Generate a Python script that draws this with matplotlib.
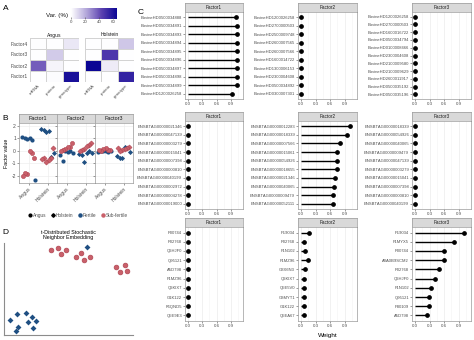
import numpy as np
import matplotlib
matplotlib.use('Agg')
from matplotlib import pyplot as plt
from matplotlib.colors import LinearSegmentedColormap, Normalize
from matplotlib.lines import Line2D
from matplotlib.cm import ScalarMappable

plt.rcParams['font.family'] = ['Liberation Sans', 'DejaVu Sans']

# ---------------- data ----------------
# A: variance explained (%) rows Factor1..Factor4, cols mRNA, protein, genotype
views = ['mRNA', 'protein', 'genotype']
factors = ['Factor1', 'Factor2', 'Factor3', 'Factor4']
var_angus = [[0.5, 1.0, 62.0],
             [38.0, 3.0, 0.5],
             [0.5, 13.0, 0.5],
             [0.5, 0.5, 6.0]]
var_holstein = [[0.5, 0.5, 55.0],
                [66.0, 5.0, 0.5],
                [0.5, 48.0, 0.5],
                [0.5, 0.5, 14.0]]

# B: factor values per sample (6 fertile + 6 sub-fertile per breed)
f1_angus_fert = [1.1, 1.05, 0.95, 1.0, 0.9, -2.35]
f1_angus_sub = [-0.55, -0.2, 0.0, -1.9, -1.8, -2.0]
f1_hol_fert = [1.8, 1.7, 1.55, 1.6, -0.5, -0.2]
f1_hol_sub = [0.2, -0.6, -0.75, -0.9, -0.6, -0.7]
f2_angus_fert = [-0.35, -0.85, -0.05, -0.1, 0.0, -0.15]
f2_angus_sub = [0.6, 0.3, 0.35, 0.15, 0.05, 0.0]
f2_hol_fert = [-0.25, -0.35, -0.9, -0.2, -0.05, -0.15]
f2_hol_sub = [0.65, 0.5, 0.4, 0.15, 0.1, -0.05]
f3_angus_fert = [-0.1, -0.05, -0.05, 0.0, -0.1, -0.05]
f3_angus_sub = [0.1, 0.05, 0.25, 0.15, 0.0, 0.05]
f3_hol_fert = [-0.45, -0.55, -0.6, 0.35, 0.25, -0.1]
f3_hol_sub = [0.3, 0.25, 0.15, 0.1, 0.0, 0.2]

# C: top weights
geno_f1_ids = ['BovineHD0500034888', 'BovineHD0500034891', 'BovineHD0500034893', 'BovineHD0500034894',
               'BovineHD0500034895', 'BovineHD0500034896', 'BovineHD0500034897', 'BovineHD0500034898',
               'BovineHD0500034899', 'BovineHD1200026258']
geno_f1_w = [1.01, 1.02, 1.02, 1.02, 1.02, 1.02, 1.02, 1.02, 1.02, 0.93]
geno_f2_ids = ['BovineHD1200026258', 'BovineHD2700000503', 'BovineHD2500009748', 'BovineHD2600007565',
               'BovineHD2600007566', 'BovineHD1600014722', 'BovineHD1300006153', 'BovineHD2300004608',
               'BovineHD0500034892', 'BovineHD0300007301']
geno_f2_w = [0.01, 0.01, 0.01, 0.01, 0.01, 0.01, 0.01, 0.01, 0.01, 0.01]
geno_f3_ids = ['BovineHD1200026258', 'BovineHD2700000503', 'BovineHD1600016722', 'BovineHD0500034794',
               'BovineHD0100008466', 'BovineHD2300004608', 'BovineHD2100009580', 'BovineHD2100009629',
               'BovineHD2600011917', 'BovineHD0500035192', 'BovineHD0500035196']
geno_f3_w = [0.01, 0.01, 0.01, 0.01, 0.01, 0.01, 0.01, 0.01, 0.01, 0.01, 0.01]

mrna_f1_ids = ['ENSBTAG00000021346', 'ENSBTAG00000047139', 'ENSBTAG00000003279', 'ENSBTAG00000015041',
               'ENSBTAG00000007398', 'ENSBTAG00000000810', 'ENSBTAG00000040199', 'ENSBTAG00000002972',
               'ENSBTAG00000004278', 'ENSBTAG00000019000']
mrna_f1_w = [0.01, 0.01, 0.01, 0.01, 0.01, 0.01, 0.01, 0.01, 0.01, 0.01]
mrna_f2_ids = ['ENSBTAG00000012283', 'ENSBTAG00000018339', 'ENSBTAG00000007566', 'ENSBTAG00000015061',
               'ENSBTAG00000054926', 'ENSBTAG00000018655', 'ENSBTAG00000021346', 'ENSBTAG00000040065',
               'ENSBTAG00000009479', 'ENSBTAG00000052111']
mrna_f2_w = [1.0, 0.95, 0.81, 0.75, 0.75, 0.73, 0.70, 0.67, 0.66, 0.65]
mrna_f3_ids = ['ENSBTAG00000018339', 'ENSBTAG00000054926', 'ENSBTAG00000040065', 'ENSBTAG00000009479',
               'ENSBTAG00000047139', 'ENSBTAG00000003279', 'ENSBTAG00000015041', 'ENSBTAG00000007398',
               'ENSBTAG00000000810', 'ENSBTAG00000040199']
mrna_f3_w = [0.01, 0.01, 0.01, 0.01, 0.01, 0.01, 0.01, 0.01, 0.01, 0.01]

prot_f1_ids = ['P00744', 'P02768', 'Q2HJF0', 'Q95121', 'A5D798', 'F1MZ96', 'Q2KIX7', 'G1K122',
               'F6QND5', 'Q5E9E3']
prot_f1_w = [0.01, 0.01, 0.01, 0.01, 0.01, 0.01, 0.01, 0.01, 0.01, 0.01]
prot_f2_ids = ['P19034', 'P02768', 'F1N102', 'F1MZ96', 'G3X6N3', 'Q2KIX7', 'Q5E5V0', 'G3MYT1',
               'G1K122', 'Q5EA67']
prot_f2_w = [0.16, 0.06, 0.08, 0.14, 0.08, 0.07, 0.07, 0.07, 0.06, 0.06]
prot_f3_ids = ['P19034', 'F1MYX5', 'P00744', 'A0A0B9SCM2', 'P02768', 'Q2HJF0', 'F1N102', 'Q95121',
               'P80109', 'A5D798']
prot_f3_w = [1.01, 0.80, 0.59, 0.59, 0.49, 0.41, 0.33, 0.28, 0.28, 0.25]

# D: t-SNE embedding
tsne_sub_x = [36.4, 41.9, 48.1, 44.2, 55.8, 59.7, 62.0, 66.7, 86.8, 93.8, 89.9, 95.3]
tsne_sub_y = [92.4, 94.6, 92.4, 88.0, 84.8, 89.1, 81.5, 84.8, 73.9, 76.1, 68.5, 69.6]
tsne_fert_x = [64.3, 4.7, 10.1, 17.1, 21.7, 24.8, 18.6, 10.9, 9.3, 22.5]
tsne_fert_y = [95.7, 16.3, 22.8, 23.9, 19.6, 15.2, 14.1, 8.7, 4.3, 7.6]

# ---------------- style ----------------
W, H = 474, 340
BLUE = '#1F4F82'
RED = '#C9606A'
RED_EDGE = '#B04552'
GRID = '#EBEBEB'
TXT = '#4D4D4D'
BORDER = '#9A9A9A'

fig = plt.figure(figsize=(W / 100, H / 100), dpi=100)


def rect(x0, y0, x1, y1):
    return [x0 / W, 1 - y1 / H, (x1 - x0) / W, (y1 - y0) / H]


def strip(x0, y0, x1, y1, label, fs):
    s = fig.add_axes(rect(x0, y0, x1, y1))
    s.set_facecolor('#D9D9D9')
    s.set_xticks([])
    s.set_yticks([])
    for sp in s.spines.values():
        sp.set_color(BORDER)
        sp.set_linewidth(0.5)
    s.text(0.5, 0.45, label, ha='center', va='center', fontsize=fs, color='#1A1A1A')
    return s


def frame(ax):
    for sp in ax.spines.values():
        sp.set_color(BORDER)
        sp.set_linewidth(0.5)


# ---------------- panel A ----------------
cmap = LinearSegmentedColormap.from_list('var', ['#FFFFFF', '#B3A7DA', '#5B41B0', '#0B0694'])
norm = Normalize(0, 66)
for i, (name, mat) in enumerate([('Angus', var_angus), ('Holstein', var_holstein)]):
    x0 = 30 + i * 55
    ax = fig.add_axes(rect(x0, 38, x0 + 49, 82))
    ax.pcolormesh(np.array(mat), cmap=cmap, norm=norm, edgecolors='#D3D3D3', linewidth=0.6)
    ax.set_xlim(0, 3)
    ax.set_ylim(0, 4)
    ax.set_xticks(np.arange(3) + 0.5)
    ax.set_xticklabels(views, rotation=45, ha='right', rotation_mode='anchor', fontsize=3.2, color=TXT)
    ax.set_yticks(np.arange(4) + 0.5)
    if i == 0:
        ax.set_yticklabels(factors, fontsize=3.6, color=TXT)
    else:
        ax.set_yticklabels([])
    ax.tick_params(length=0, pad=1.5)
    for sp in ax.spines.values():
        sp.set_visible(False)
    fig.text((x0 + 24.5) / W, 1 - 35 / H, name, ha='center', va='center', fontsize=3.6, color='#1A1A1A')

cax = fig.add_axes(rect(71, 8, 117, 19))
cb = fig.colorbar(ScalarMappable(norm=norm, cmap=cmap), cax=cax, orientation='horizontal')
cb.set_ticks([0, 20, 40, 60])
cb.outline.set_visible(False)
cax.tick_params(labelsize=3.2, length=1.2, width=0.4, colors=TXT, pad=1, direction='in')
fig.text(68 / W, 1 - 15 / H, 'Var. (%)', ha='right', va='center', fontsize=4.5, color='#1A1A1A')

# ---------------- panel B ----------------
jit = np.array([-0.32, -0.19, -0.06, 0.06, 0.19, 0.32])
bdata = [
    ('Factor1', f1_angus_fert, f1_angus_sub, f1_hol_fert, f1_hol_sub),
    ('Factor2', f2_angus_fert, f2_angus_sub, f2_hol_fert, f2_hol_sub),
    ('Factor3', f3_angus_fert, f3_angus_sub, f3_hol_fert, f3_hol_sub),
]
for k, (fname, af, asb, hf, hsb) in enumerate(bdata):
    x0 = 19 + k * 38
    strip(x0, 114, x0 + 38, 123, fname, 3.9)
    ax = fig.add_axes(rect(x0, 123, x0 + 38, 183))
    ax.set_xlim(0.5, 2.5)
    ax.set_ylim(-2.6, 2.25)
    ax.grid(True, color=GRID, lw=0.4)
    ax.set_axisbelow(True)
    ax.plot(1 + jit, af, 'o', color=BLUE, ms=3.0, mew=0)
    ax.plot(1 + jit[::-1] * 0.9, asb, 'o', mfc=RED, mec=RED_EDGE, ms=3.0, mew=0.4)
    ax.plot(2 + jit, hf, 'D', color=BLUE, ms=2.6, mew=0)
    ax.plot(2 + jit[::-1] * 0.9, hsb, 'D', mfc=RED, mec=RED_EDGE, ms=2.6, mew=0.4)
    ax.set_xticks([1, 2])
    ax.set_xticklabels(['Angus', 'Holstein'], rotation=45, ha='right', rotation_mode='anchor',
                       fontsize=3.6, color=TXT)
    ax.set_yticks([-2, -1, 0, 1, 2])
    if k == 0:
        ax.set_yticklabels(['-2', '-1', '0', '1', '2'], fontsize=3.6, color=TXT)
        ax.set_ylabel('Factor value', fontsize=3.8, labelpad=2)
    else:
        ax.set_yticklabels([])
    ax.tick_params(length=1.2, width=0.4, pad=1, colors=TXT)
    frame(ax)

handles = [
    Line2D([], [], marker='o', ls='', color='black', ms=2.0, label='Angus'),
    Line2D([], [], marker='D', ls='', color='black', ms=1.8, label='Holstein'),
    Line2D([], [], marker='o', ls='', color=BLUE, ms=2.2, label='Fertile'),
    Line2D([], [], marker='o', ls='', color=RED, ms=2.2, label='Sub-fertile'),
]
fig.legend(handles=handles, ncol=4, loc='center', bbox_to_anchor=(78 / W, 1 - 215.5 / H),
           frameon=False, fontsize=3.4, handletextpad=0.1, columnspacing=0.9, handlelength=1.0,
           labelcolor=TXT)

# ---------------- panel D ----------------
ax = fig.add_axes(rect(4, 243, 133, 335))
ax.plot(tsne_sub_x, tsne_sub_y, 'o', mfc=RED, mec=RED_EDGE, ms=3.4, mew=0.5)
ax.plot(tsne_fert_x, tsne_fert_y, 'D', color=BLUE, ms=3.0, mew=0)
ax.set_xlim(0, 100)
ax.set_ylim(0, 100)
ax.set_xticks([])
ax.set_yticks([])
ax.spines['top'].set_visible(False)
ax.spines['right'].set_visible(False)
ax.spines['left'].set_color('#8C8C8C')
ax.spines['bottom'].set_color('#8C8C8C')
ax.spines['left'].set_linewidth(0.8)
ax.spines['bottom'].set_linewidth(0.8)
fig.text(68 / W, 1 - 235 / H, 't-Distributed Stochastic\nNeighbor Embedding', ha='center', va='center',
         fontsize=3.8, linespacing=1.05)

# ---------------- panel C ----------------
cols = [(185, 243), (298, 357), (412, 471)]
rows = [(3, 12, 99), (112, 121, 209), (218, 227, 321)]
cpanels = [
    [(geno_f1_ids, geno_f1_w), (geno_f2_ids, geno_f2_w), (geno_f3_ids, geno_f3_w)],
    [(mrna_f1_ids, mrna_f1_w), (mrna_f2_ids, mrna_f2_w), (mrna_f3_ids, mrna_f3_w)],
    [(prot_f1_ids, prot_f1_w), (prot_f2_ids, prot_f2_w), (prot_f3_ids, prot_f3_w)],
]
for r, (s0, s1, p1) in enumerate(rows):
    for c, (x0, x1) in enumerate(cols):
        ids, w = cpanels[r][c]
        strip(x0, s0, x1, s1, factors[c], 3.3)
        ax = fig.add_axes(rect(x0, s1, x1, p1))
        n = len(ids)
        y = np.arange(n)[::-1]
        ax.set_xlim(-0.06, 1.15)
        ax.set_ylim(-0.6, n - 0.4)
        ax.set_xticks([0, 0.3, 0.6, 0.9])
        ax.set_xticks([0.15, 0.45, 0.75, 1.05], minor=True)
        ax.xaxis.grid(True, which='major', color=GRID, lw=0.5)
        ax.xaxis.grid(True, which='minor', color='#F4F4F4', lw=0.4)
        ax.set_axisbelow(True)
        ax.hlines(y, 0, w, color='black', lw=1.0)
        ax.plot(w, y, 'o', color='black', ms=2.4)
        ax.set_xticklabels(['0.0', '0.3', '0.6', '0.9'], fontsize=3.2, color=TXT)
        ax.set_yticks(y)
        ax.set_yticklabels(ids, fontsize=3.0, color=TXT)
        ax.tick_params(length=1.2, width=0.4, pad=1, colors=TXT)
        ax.tick_params(which='minor', length=0)
        frame(ax)

fig.text(328 / W, 1 - 336 / H, 'Weight', ha='center', va='center', fontsize=4.6)

# panel letters
for lab, x, y in [('A', 6, 9), ('B', 5, 118), ('C', 141, 12), ('D', 5, 233)]:
    fig.text(x / W, 1 - y / H, lab, ha='center', va='center', fontsize=6)

fig.savefig('out.png', dpi=100)
